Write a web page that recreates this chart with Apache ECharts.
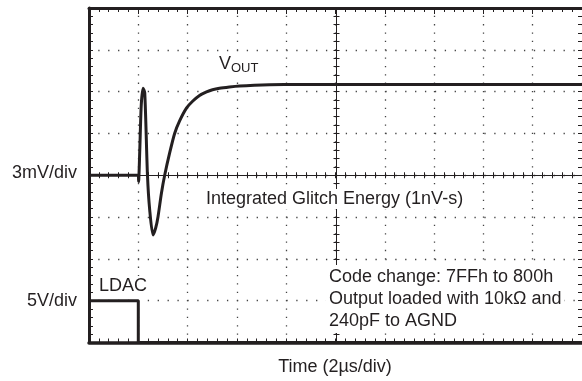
<!DOCTYPE html>
<html><head><meta charset="utf-8">
<script src="https://cdn.jsdelivr.net/npm/echarts@6/dist/echarts.min.js"></script>
<style>html,body{margin:0;padding:0;background:#fff}#c{width:582px;height:381px}</style>
</head><body><div id="c"></div>
<script>
// Values in scope divisions (x: 0..10 time divisions, y: 0..8 vertical divisions)
const voutX = [0, 1.00, 1.006, 1.03, 1.06, 1.097, 1.131, 1.186, 1.232, 1.299, 1.353, 1.40, 1.469, 1.535, 1.636, 1.737, 1.838, 1.980, 2.101, 2.242, 2.384, 2.505, 2.646, 2.848, 3.051, 3.354, 3.657, 4.263, 10];
const voutY = [4.0, 4.0, 3.85, 4.6, 5.68, 6.08, 5.97, 4.0, 3.16, 2.57, 2.74, 3.01, 3.57, 4.0, 4.533, 5.0, 5.299, 5.61, 5.77, 5.909, 5.993, 6.045, 6.081, 6.112, 6.136, 6.155, 6.165, 6.17, 6.17];
const ldacX = [0, 1.0, 1.0, 10];
const ldacY = [1, 1, 0, 0];
const xDivs = 10, yDivs = 8;
const texts = {
  vScale: '3mV/div', lScale: '5V/div', ldac: 'LDAC', glitch: 'Integrated Glitch Energy (1nV-s)',
  note: ['Code change: 7FFh to 800h', 'Output loaded with 10k\u03A9 and', '240pF to AGND'],
  time: 'Time (2\u00B5s/div)'
};

const INK = '#231f20';
const G = {left: 89, top: 8, width: 495, height: 334.5};
const chart = echarts.init(document.getElementById('c'), null, {renderer: 'canvas'});

function ax(base, o) {
  return Object.assign({
    type: 'value', gridIndex: 0, min: 0, max: base, interval: 1,
    axisLabel: {show: false}, splitLine: {show: false},
    axisLine: {show: true, onZero: false, lineStyle: {color: INK, width: 1}},
    axisTick: {show: true, inside: true, length: 4, lineStyle: {color: INK, width: 1}},
    minorTick: {show: true, splitNumber: 5, length: 4, lineStyle: {color: INK, width: 1}},
    z: 3
  }, o);
}
const hStep = G.width / (xDivs * 5), vStep = G.height / (yDivs * 5);
const xAxes = [
  ax(xDivs, {position: 'bottom', axisLine: {show: true, onZero: false, lineStyle: {color: INK, width: 3.5}},
    splitLine: {show: true, lineStyle: {color: '#444', width: 1.3, type: [1.3, vStep - 1.3], dashOffset: 0.65}}}),
  ax(xDivs, {position: 'top', axisLine: {show: true, onZero: false, lineStyle: {color: INK, width: 3}},
    axisTick: {show: true, inside: true, length: 6, lineStyle: {color: INK, width: 1}}}),
  ax(xDivs, {position: 'bottom', offset: -G.height / 2, axisTick: {show: true, inside: true, length: 3, lineStyle: {color: INK, width: 1}},
    minorTick: {show: true, splitNumber: 5, length: 3, lineStyle: {color: INK, width: 1}}}),
  ax(xDivs, {position: 'bottom', offset: -G.height / 2, axisTick: {show: true, inside: false, length: 3, lineStyle: {color: INK, width: 1}},
    minorTick: {show: true, splitNumber: 5, length: 3, lineStyle: {color: INK, width: 1}}})
];
const yAxes = [
  ax(yDivs, {position: 'left', axisLine: {show: true, onZero: false, lineStyle: {color: INK, width: 3}},
    splitLine: {show: true, lineStyle: {color: '#444', width: 1.3, type: [1.3, hStep - 1.3], dashOffset: 0.65}}}),
  ax(yDivs, {position: 'right'}),
  ax(yDivs, {position: 'left', offset: -G.width / 2, axisTick: {show: true, inside: true, length: 3, lineStyle: {color: INK, width: 1}},
    minorTick: {show: true, splitNumber: 5, length: 3, lineStyle: {color: INK, width: 1}}}),
  ax(yDivs, {position: 'left', offset: -G.width / 2, axisTick: {show: true, inside: false, length: 3, lineStyle: {color: INK, width: 1}},
    minorTick: {show: true, splitNumber: 5, length: 3, lineStyle: {color: INK, width: 1}}})
];

const font = '"Liberation Sans", Arial, Helvetica, sans-serif';
const txt = (x, y, s, align, bg) => ({
  type: 'text', x: x, y: y, z: 100,
  style: Object.assign({text: s, fill: INK, font: '18px ' + font, align: align || 'left', verticalAlign: 'middle'},
    bg ? {backgroundColor: '#fff', padding: [1, 3, 1, 3]} : {})
});

chart.setOption({
  animation: false,
  backgroundColor: '#fff',
  grid: {left: G.left, top: G.top, width: G.width, height: G.height, containLabel: false},
  xAxis: xAxes,
  yAxis: yAxes,
  series: [
    {type: 'line', name: 'VOUT', xAxisIndex: 0, yAxisIndex: 0, data: voutX.map((x, i) => [x, voutY[i]]),
      smooth: 0.25, showSymbol: false, symbol: 'none', clip: false, z: 5,
      lineStyle: {color: INK, width: 3}},
    {type: 'line', name: 'LDAC', xAxisIndex: 0, yAxisIndex: 0, data: ldacX.map((x, i) => [x, ldacY[i]]),
      showSymbol: false, symbol: 'none', clip: false, z: 5,
      lineStyle: {color: INK, width: 3}}
  ],
  graphic: {elements: [
    txt(77, 173, texts.vScale, 'right'),
    txt(77, 301, texts.lScale, 'right'),
    txt(96, 286, texts.ldac, 'left', true),
    txt(203, 199, texts.glitch, 'left', true),
    {type: 'text', x: 217, y: 64, z: 100, style: {
      text: '{a|V}{b|OUT}', font: '18px ' + font, fill: INK, verticalAlign: 'middle',
      backgroundColor: '#fff', padding: [1, 2, 1, 2],
      rich: {a: {fontSize: 18, fontFamily: font, fill: INK}, b: {fontSize: 13, fontFamily: font, fill: INK, padding: [9, 0, 0, 0]}}}},
    {type: 'text', x: 326, y: 299, z: 100, style: {
      text: texts.note.join('\n'), fill: INK, font: '18px ' + font, lineHeight: 22,
      align: 'left', verticalAlign: 'middle', backgroundColor: '#fff', padding: [1, 3, 1, 3]}},
    txt(335, 367, texts.time, 'center')
  ]}
});
</script>
</body></html>
